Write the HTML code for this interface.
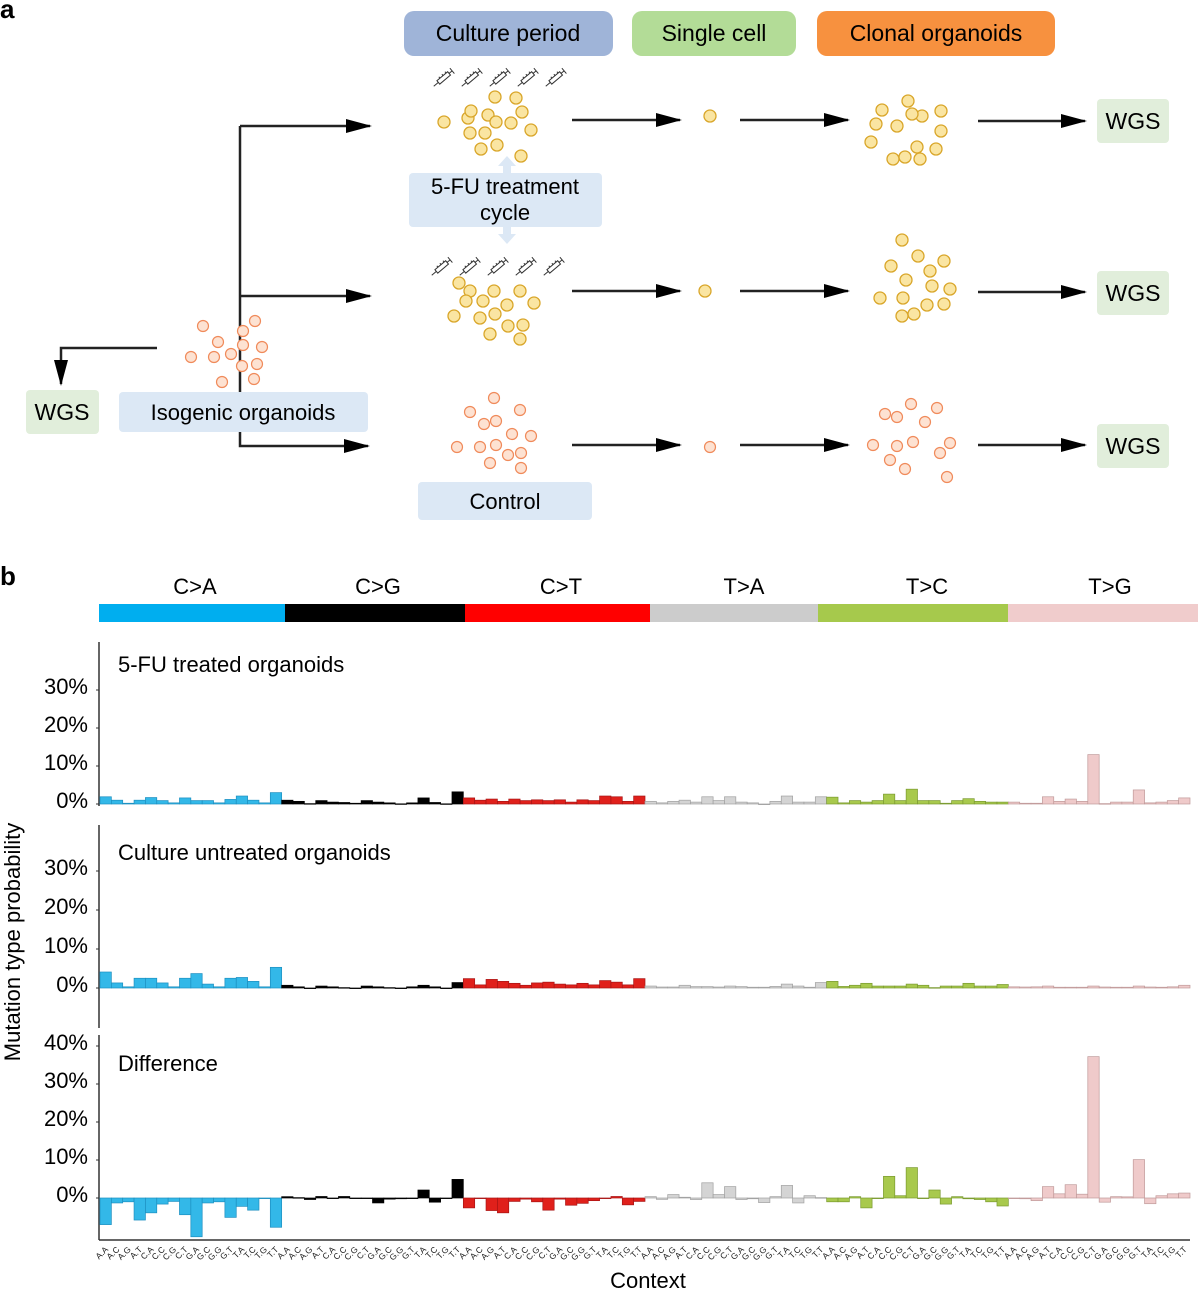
<!DOCTYPE html>
<html><head><meta charset="utf-8"><style>
body{margin:0;background:#fff;}
svg{display:block;font-family:"Liberation Sans",sans-serif;}
</style></head><body>
<svg id="fig" width="1200" height="1289" viewBox="0 0 1200 1289" xmlns="http://www.w3.org/2000/svg">
<defs>
<marker id="ah" markerWidth="26" markerHeight="14" refX="24" refY="7" orient="auto" markerUnits="userSpaceOnUse" viewBox="0 0 26 14"><path d="M0,0 L26,7 L0,14 z" fill="#000"/></marker>
<g id="syr"><g transform="rotate(-40)"><rect x="-10" y="-2.2" width="14" height="4.4" fill="none" stroke="#333" stroke-width="1"/><line x1="-16" y1="0" x2="-10" y2="0" stroke="#333" stroke-width="1"/><line x1="4" y1="0" x2="8" y2="0" stroke="#333" stroke-width="1"/><line x1="8" y1="-3.5" x2="8" y2="3.5" stroke="#333" stroke-width="1"/><line x1="-6" y1="-2" x2="-6" y2="-4" stroke="#333"/><line x1="-2" y1="-2" x2="-2" y2="-4" stroke="#333"/><line x1="2" y1="-2" x2="2" y2="-4" stroke="#333"/></g></g>
</defs>
<text x="0" y="18" font-size="26" font-weight="bold">a</text>
<text x="0" y="585" font-size="26" font-weight="bold">b</text>

<g>
<rect x="404" y="11" width="209" height="45" rx="10" fill="#9fb4d8"/>
<text x="508" y="41" font-size="23" text-anchor="middle">Culture period</text>
<rect x="632" y="11" width="164" height="45" rx="10" fill="#b3dc97"/>
<text x="714" y="41" font-size="23" text-anchor="middle">Single cell</text>
<rect x="817" y="11" width="238" height="45" rx="10" fill="#f7913f"/>
<text x="936" y="41" font-size="23" text-anchor="middle">Clonal organoids</text>
</g>

<g stroke="#222" stroke-width="2.5" fill="none">
<polyline points="240,126 240,446 368,446" marker-end="url(#ah)"/>
<line x1="240" y1="126" x2="370" y2="126" marker-end="url(#ah)"/>
<line x1="240" y1="296" x2="370" y2="296" marker-end="url(#ah)"/>
<polyline points="157,348 61,348 61,384" marker-end="url(#ah)"/>
<line x1="572" y1="120" x2="680" y2="120" marker-end="url(#ah)"/>
<line x1="740" y1="120" x2="848" y2="120" marker-end="url(#ah)"/>
<line x1="978" y1="121" x2="1085" y2="121" marker-end="url(#ah)"/>
<line x1="572" y1="291" x2="680" y2="291" marker-end="url(#ah)"/>
<line x1="740" y1="291" x2="848" y2="291" marker-end="url(#ah)"/>
<line x1="978" y1="292" x2="1085" y2="292" marker-end="url(#ah)"/>
<line x1="572" y1="445" x2="680" y2="445" marker-end="url(#ah)"/>
<line x1="740" y1="445" x2="848" y2="445" marker-end="url(#ah)"/>
<line x1="978" y1="445" x2="1085" y2="445" marker-end="url(#ah)"/>
</g>
<g fill="#dce8f5">
<rect x="503" y="165" width="8" height="70"/><path d="M498,166 L507,156 L516,166z M498,234 L507,244 L516,234z"/>
</g>

<g id="cells"></g>
<g>
<use href="#syr" x="446" y="76"/><use href="#syr" x="474" y="76"/><use href="#syr" x="502" y="76"/><use href="#syr" x="530" y="76"/><use href="#syr" x="558" y="76"/>
<use href="#syr" x="444" y="265"/><use href="#syr" x="472" y="265"/><use href="#syr" x="500" y="265"/><use href="#syr" x="528" y="265"/><use href="#syr" x="556" y="265"/>
</g>

<rect x="409" y="173" width="193" height="54" rx="4" fill="#dce8f5"/>
<text x="505" y="194" font-size="22" text-anchor="middle">5-FU treatment</text>
<text x="505" y="220" font-size="22" text-anchor="middle">cycle</text>
<rect x="418" y="482" width="174" height="38" rx="4" fill="#dce8f5"/>
<text x="505" y="509" font-size="22" text-anchor="middle">Control</text>
<rect x="119" y="392" width="249" height="40" rx="4" fill="#dce8f5"/>
<text x="243" y="420" font-size="22" text-anchor="middle">Isogenic organoids</text>
<g font-size="23" text-anchor="middle">
<rect x="26" y="390" width="73" height="44" rx="4" fill="#e1eedb"/><text x="62" y="420">WGS</text>
<rect x="1097" y="99" width="72" height="44" rx="4" fill="#e1eedb"/><text x="1133" y="129">WGS</text>
<rect x="1097" y="271" width="72" height="44" rx="4" fill="#e1eedb"/><text x="1133" y="301">WGS</text>
<rect x="1097" y="424" width="72" height="44" rx="4" fill="#e1eedb"/><text x="1133" y="454">WGS</text>
</g>

<g id="chart"></g>
</svg>
<script>
const NS='http://www.w3.org/2000/svg';
function mk(tag,attrs,parent){const e=document.createElementNS(NS,tag);for(const k in attrs)e.setAttribute(k,attrs[k]);parent.appendChild(e);return e;}

const cellsG=document.getElementById('cells');
const yellowCells=[[444,122],[468,118],[471,111],[495,97],[516,98],[522,112],[488,115],[496,122],[511,123],[470,133],[485,133],[531,130],[481,149],[497,145],[521,156],
[459,283],[470,291],[494,291],[520,291],[466,301],[483,301],[507,305],[534,303],[454,316],[480,318],[495,314],[508,326],[523,325],[490,334],[520,339],
[908,101],[882,110],[897,126],[922,116],[941,111],[876,124],[912,114],[941,131],[871,142],[917,147],[936,149],[893,159],[905,157],[920,159],
[902,240],[918,256],[944,261],[891,266],[930,271],[906,280],[932,286],[950,289],[880,298],[903,298],[927,305],[944,304],[914,314],[902,316],
[710,116],[705,291]];
const orangeCells=[[494,398],[470,412],[520,410],[484,424],[496,421],[512,434],[531,436],[457,447],[480,447],[496,445],[508,455],[521,453],[490,463],[521,468],
[203,326],[255,321],[243,331],[218,342],[191,357],[214,357],[231,354],[243,345],[262,347],[257,364],[242,366],[222,382],[254,379],
[911,404],[885,414],[897,417],[937,408],[925,422],[873,445],[897,446],[913,442],[950,443],[890,460],[940,453],[905,469],[947,477],[710,447]];
yellowCells.forEach(p=>{const c=mk('circle',{cx:p[0],cy:p[1],r:6,fill:'#fae5a2',stroke:'#d9a62a','stroke-width':1.3},cellsG);

});
orangeCells.forEach(p=>{const c=mk('circle',{cx:p[0],cy:p[1],r:5.5,fill:'#fde2d2',stroke:'#f08a5a','stroke-width':1.2},cellsG);

});

// ---- chart data ----
const mutationTypes=['C>A','C>G','C>T','T>A','T>C','T>G'];
const bases=['A','C','G','T'];
const treated=[
1.9,1.0,0.2,1.0,1.7,0.9,0.3,1.6,0.9,0.9,0.3,1.2,2.1,1.0,0.3,3.0,
1.0,0.7,0.1,0.9,0.5,0.4,0.2,0.9,0.5,0.3,0.05,0.3,1.6,0.4,0.05,3.2,
1.6,1.0,1.3,0.7,1.3,0.9,1.1,0.9,1.1,0.5,1.1,0.9,2.1,1.9,0.7,2.1,
0.7,0.3,0.7,1.0,0.5,1.9,0.9,1.9,0.5,0.3,0,0.7,2.1,0.5,0.5,1.9,
1.8,0.3,0.9,0.5,0.9,2.6,0.9,3.9,0.9,0.9,0.2,0.9,1.4,0.7,0.5,0.5,
0.5,0.2,0.2,1.9,0.7,1.3,0.7,13.0,0.1,0.5,0.5,3.7,0.3,0.5,0.9,1.6];
const untreated=[
4.1,1.3,0.3,2.5,2.5,1.3,0.3,2.5,3.7,1.0,0.3,2.5,2.7,1.7,0.3,5.3,
0.7,0.3,0,0.5,0.3,0.1,0,0.5,0.3,0.1,0,0.3,0.7,0.3,0,1.4,
2.4,0.8,2.2,1.7,1.2,0.7,1.3,1.5,1.0,0.8,1.2,0.8,1.9,1.5,0.8,2.4,
0.5,0.25,0.25,0.7,0.35,0.35,0.25,0.5,0.35,0.2,0.2,0.4,1.0,0.5,0.2,1.4,
1.7,0.4,0.7,1.2,0.5,0.5,0.5,1.0,0.7,0.1,0.5,0.5,1.2,0.5,0.5,0.9,
0.3,0.25,0.3,0.5,0.2,0.2,0.2,0.5,0.25,0.2,0.2,0.5,0.25,0.2,0.3,0.7];
const difference=[
-7.0,-1.3,-1.0,-5.8,-3.9,-1.6,-0.9,-4.4,-10.2,-1.3,-1.0,-5.1,-2.2,-3.2,0,-7.7,
0.35,0.1,-0.4,0.4,0,0.4,0,0,-1.3,-0.3,-0.2,0,2.1,-1.1,0,4.9,
-2.6,0,-3.3,-3.9,-0.9,-0.3,-1.0,-3.2,-0.3,-1.9,-1.4,-0.7,0,0.4,-1.8,-0.9,
0.35,-0.35,0.9,0.2,-0.4,4.0,0.9,3.0,-0.4,-0.2,-1.2,0.35,3.3,-1.3,0.6,0.1,
-1.0,-1.0,0.35,-2.6,0,5.7,0.6,8.0,0,2.1,-1.6,0.35,-0.2,-0.4,-1.0,-2.1,
0,-0.2,-0.7,3.0,1.1,3.5,1.0,37.2,-1.1,0.35,0.3,10.1,-1.5,0.6,1.1,1.3];
const panelTitles=['5-FU treated organoids','Culture untreated organoids','Difference'];
const ticks1=[0,10,20,30];
const ticks2=[0,10,20,30];
const ticks3=[0,10,20,30,40];

const fills=['#33b8e8','#000000','#e0201b','#d4d4d4','#a8c94d','#efcaca'];
const strokes=['#1d8fc0','#000000','#a81414','#a0a0a0','#7a9a30','#c09a9a'];
const bandColors=['#00aeef','#000000','#ff0000','#cccccc','#a6c94c','#f0cccc'];
const bandEdges=[99,285,465,650,818,1008,1198];
const bandLabelX=[195,378,561,744,927,1110];
const chart=document.getElementById('chart');
const X0=100,X1=1190,N=96,BW=(X1-X0)/N;
const xPos=i=>X0+i*BW;

mutationTypes.forEach((t,k)=>{
 const r=mk('rect',{x:bandEdges[k],y:604,width:bandEdges[k+1]-bandEdges[k],height:18,fill:bandColors[k]},chart);
 
 
 const tx=mk('text',{x:bandLabelX[k],y:594,'font-size':22,'text-anchor':'middle'},chart);
 tx.textContent=t;
 
 
});

const panels=[
 {vals:treated,base:804,scale:3.8,top:642,bottom:806,ticks:ticks1,title:panelTitles[0],ty:672},
 {vals:untreated,base:988,scale:3.9,top:825,bottom:1028,ticks:ticks2,title:panelTitles[1],ty:860},
 {vals:difference,base:1198,scale:3.8,top:1035,bottom:1240,ticks:ticks3,title:panelTitles[2],ty:1071}
];
panels.forEach((p,pi)=>{
 const g=mk('g',{},chart);
 
 
 const yScale=v=>p.base-v*p.scale;
 const ax=mk('line',{x1:99,y1:p.top,x2:99,y2:p.bottom,stroke:'#333','stroke-width':1.5},g);
 
 
 p.ticks.forEach(t=>{
  mk('line',{x1:96,y1:yScale(t),x2:99,y2:yScale(t),stroke:'#333','stroke-width':1},g);
  const tl=mk('text',{x:88,y:yScale(t)+4,'font-size':22,'text-anchor':'end'},g);
  tl.textContent=t+'%';
  
  
 });
 const tt=mk('text',{x:118,y:p.ty,'font-size':22},g);
 tt.textContent=p.title;
 
 
 p.vals.forEach((v,i)=>{
  const k=Math.floor(i/16);
  const y0=yScale(0),y1=yScale(v);
  const h=Math.max(Math.abs(y1-y0),0.6);
  const r=mk('rect',{x:xPos(i),y:Math.min(y0,y1),width:BW,height:h,fill:fills[k],stroke:strokes[k],'stroke-width':0.7},g);
  
  
 });
});
const bx=mk('line',{x1:99,y1:1240,x2:1190,y2:1240,stroke:'#333','stroke-width':1.5},chart);


for(let i=0;i<N;i++){
 const j=i%16;
 const cx=xPos(i)+BW/2;
 const t=mk('text',{x:cx+3,y:1250,'font-size':8.5,'text-anchor':'end',transform:'rotate(-45 '+(cx+3)+' 1250)',fill:'#222'},chart);
 t.textContent=bases[Math.floor(j/4)]+'.'+bases[j%4];
 
 
}
const xt=mk('text',{x:648,y:1288,'font-size':22,'text-anchor':'middle'},chart);
xt.textContent='Context';


const yt=mk('text',{x:0,y:0,'font-size':22,'text-anchor':'middle',transform:'translate(20 942) rotate(-90)'},chart);
yt.textContent='Mutation type probability';


</script>
</body></html>
